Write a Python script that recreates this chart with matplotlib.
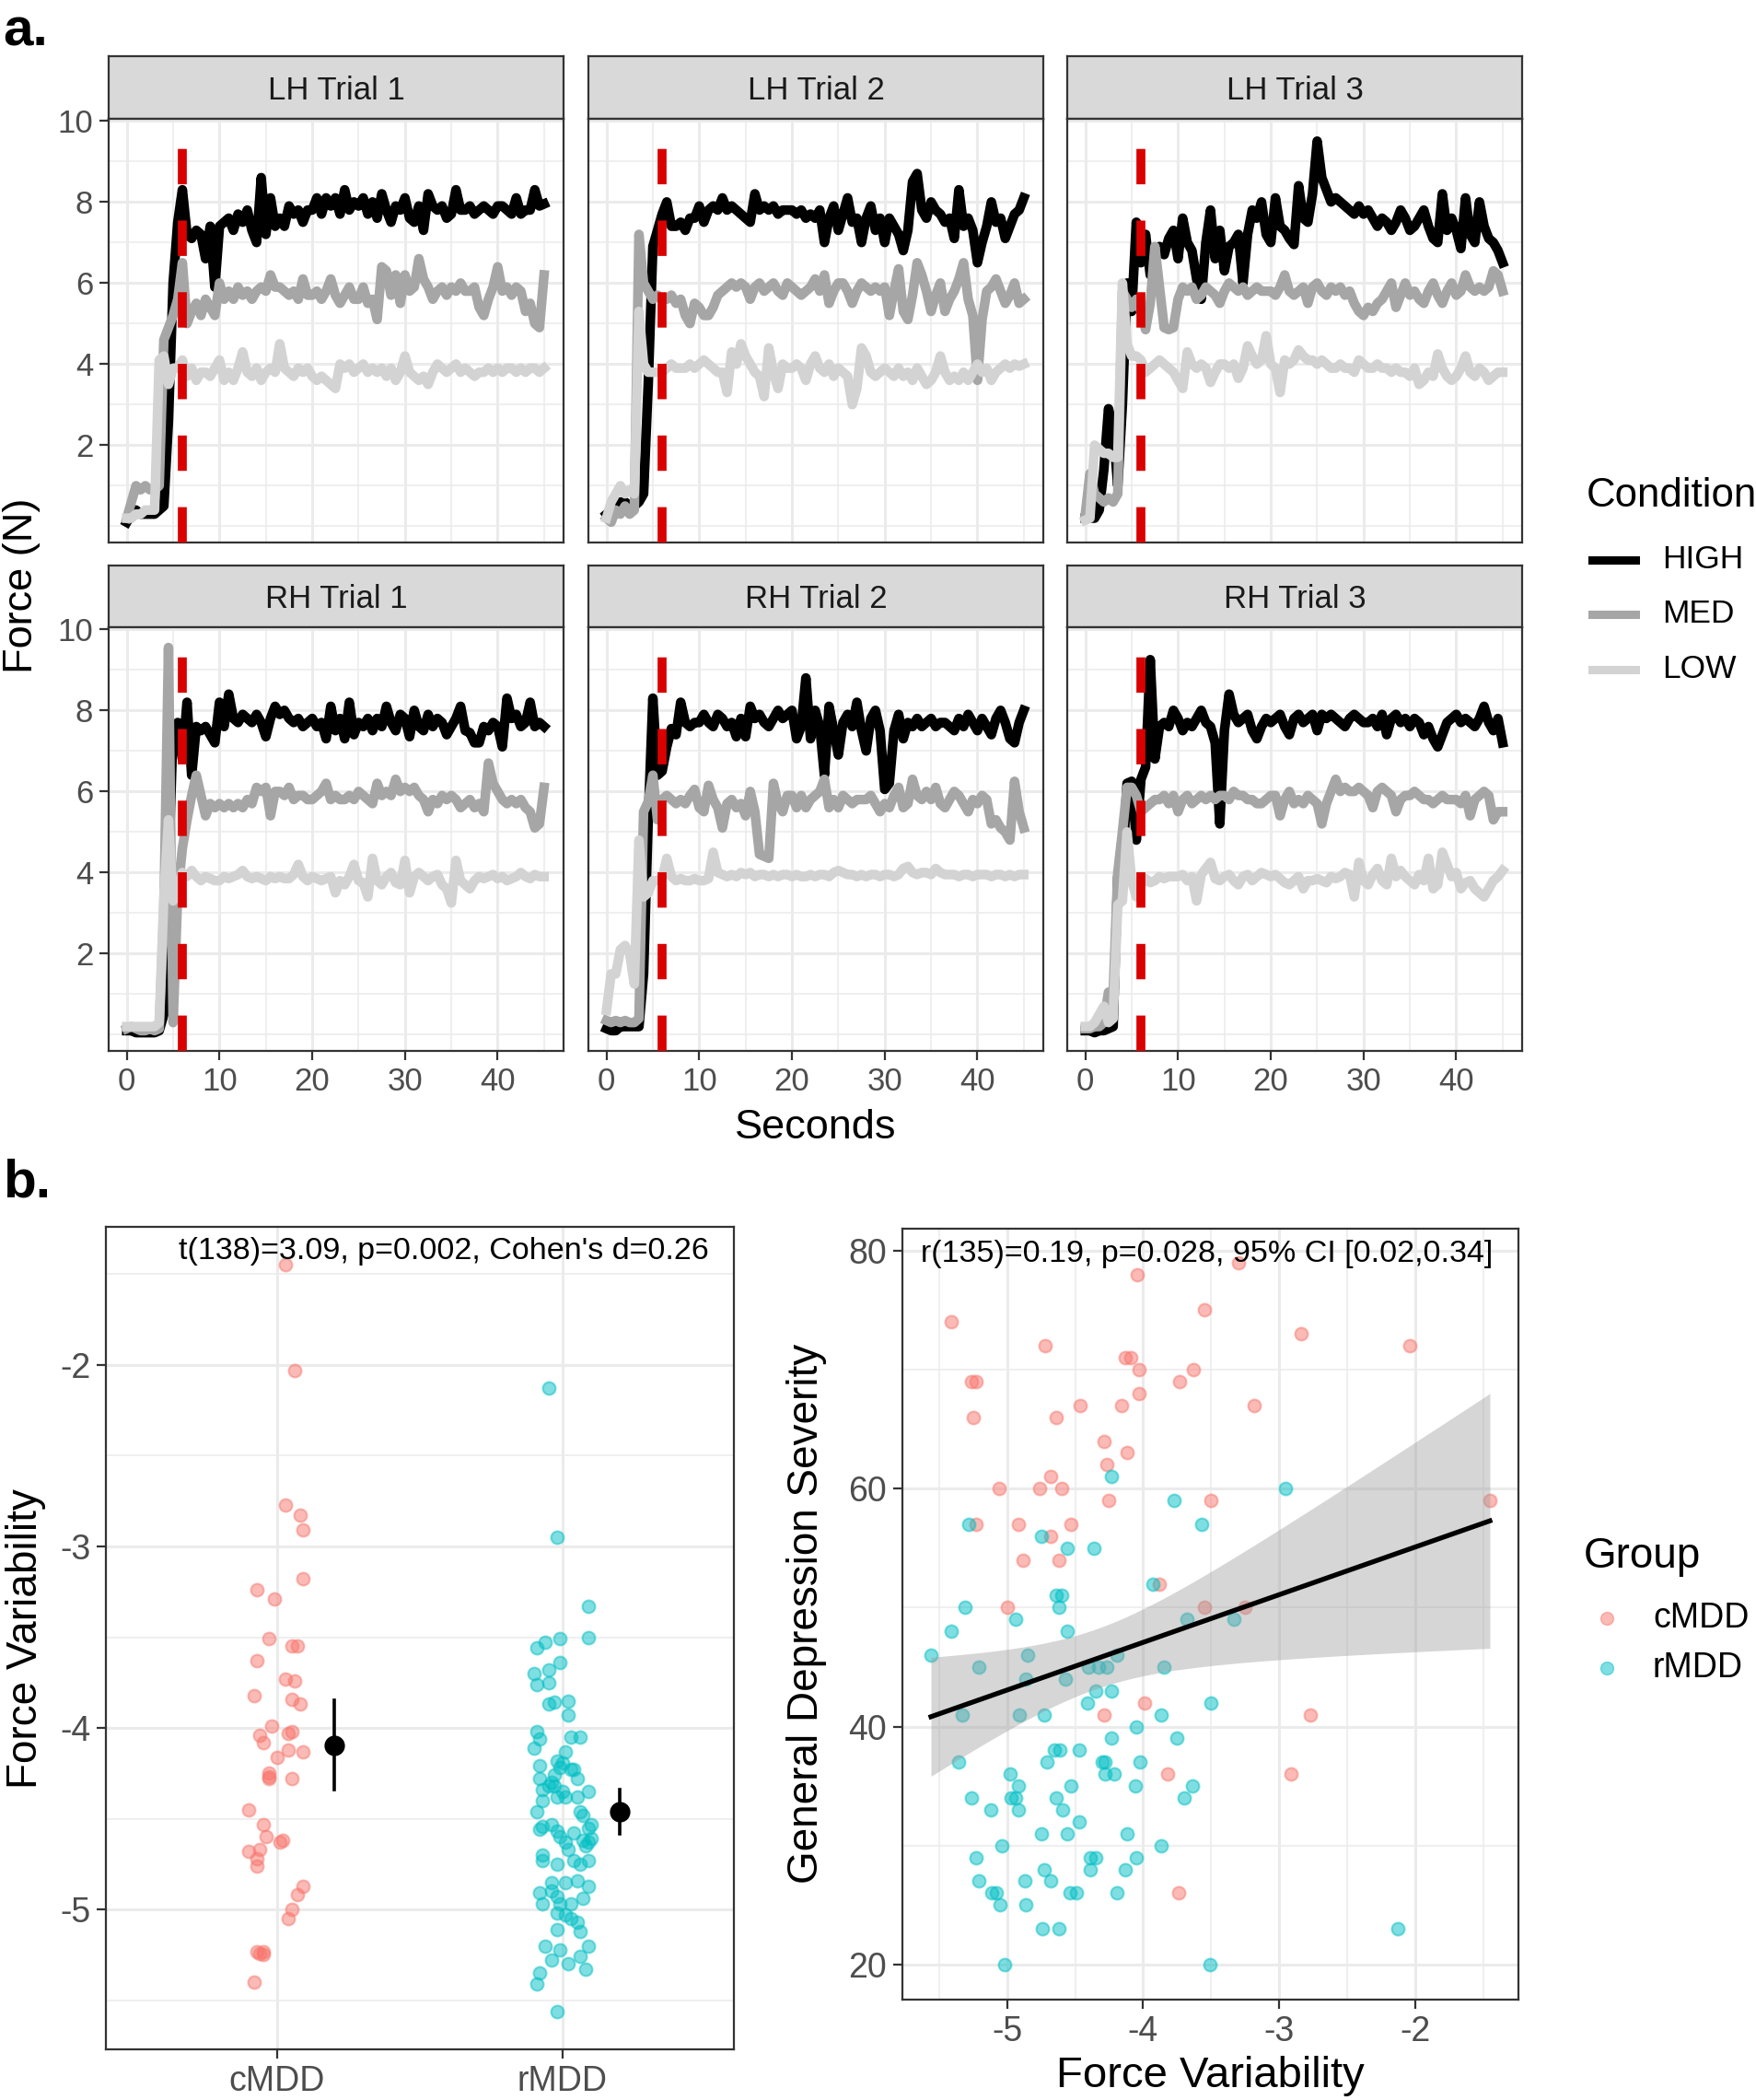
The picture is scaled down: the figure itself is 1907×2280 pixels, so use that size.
import numpy as np
import matplotlib
matplotlib.use("Agg")
from matplotlib import pyplot as plt
from matplotlib.lines import Line2D

W, H, DPI = 1908, 2280, 100
SANS = ["Liberation Sans", "DejaVu Sans"]
NARROW = ["Liberation Sans Narrow", "Liberation Sans", "DejaVu Sans"]
plt.rcParams["font.family"] = SANS
plt.rcParams["axes.unicode_minus"] = False

# ---------------- panel a: force traces (sampled every 0.5 s) ----------------
time_s = np.arange(0, 45.5, 0.5)

lh1_high = [0.1, 0.3, 0.4, 0.3, 0.3, 0.3, 0.3, 0.4, 0.5, 2.6,
            6.0, 7.5, 8.3, 7.2, 7.1, 7.3, 7.2, 6.6, 7.4, 5.9,
            7.4, 7.5, 7.6, 7.3, 7.7, 7.5, 7.8, 7.3, 7.0, 8.6,
            7.2, 8.1, 7.4, 7.6, 7.4, 7.9, 7.7, 7.8, 7.5, 7.8,
            7.8, 8.1, 7.7, 8.1, 7.9, 8.1, 7.7, 8.3, 7.8, 8.0,
            7.9, 8.1, 7.7, 8.0, 7.6, 8.2, 7.8, 7.5, 7.9, 7.8,
            8.1, 7.6, 7.5, 7.9, 7.3, 8.2, 7.9, 7.8, 7.9, 7.6,
            7.7, 8.3, 7.8, 7.8, 7.9, 7.7, 7.8, 7.9, 7.8, 7.7,
            7.9, 7.9, 7.8, 7.7, 8.1, 7.7, 7.8, 7.8, 8.3, 7.9, 7.95]
lh1_med = [0.2, 0.6, 1.0, 0.9, 1.0, 0.9, 0.9, 1.0, 4.6, 4.9,
           5.2, 5.6, 6.5, 5.0, 5.3, 5.5, 5.2, 5.6, 5.4, 5.2,
           6.0, 5.6, 5.8, 5.6, 5.9, 5.7, 5.8, 5.6, 5.8, 5.9,
           5.8, 6.2, 5.9, 5.9, 5.8, 5.7, 5.8, 5.6, 6.1, 5.7,
           5.7, 5.8, 5.6, 5.8, 6.1, 5.7, 5.5, 5.7, 5.9, 5.6,
           5.6, 5.9, 5.5, 5.6, 5.1, 6.4, 6.3, 5.7, 6.2, 5.5,
           6.2, 5.8, 5.9, 6.6, 6.1, 5.9, 5.6, 5.8, 5.9, 5.7,
           5.9, 5.8, 6.0, 5.8, 5.8, 5.9, 5.4, 5.2, 5.6, 5.9,
           6.4, 5.8, 5.9, 5.7, 5.9, 5.8, 5.3, 5.5, 5.0, 4.9, 6.2]
lh1_low = [0.2, 0.2, 0.3, 0.3, 0.4, 0.4, 0.4, 4.1, 4.2, 3.5,
           3.9, 3.9, 4.1, 3.7, 3.9, 3.6, 3.8, 3.8, 3.7, 3.9,
           4.1, 3.6, 3.8, 3.6, 3.9, 4.3, 3.8, 3.7, 3.9, 3.6,
           3.8, 3.9, 3.8, 4.5, 3.9, 3.8, 3.7, 3.9, 3.8, 3.9,
           3.7, 3.6, 3.7, 3.6, 3.5, 3.4, 4.0, 3.9, 4.0, 3.8,
           3.9, 4.0, 3.8, 3.9, 3.8, 3.9, 3.7, 3.9, 3.6, 3.8,
           4.2, 3.8, 3.7, 3.6, 3.7, 3.5, 3.8, 4.0, 3.9, 3.8,
           3.9, 4.0, 3.8, 3.9, 3.8, 3.7, 3.8, 3.8, 3.9, 3.8,
           3.9, 3.8, 3.9, 3.9, 3.8, 3.9, 3.8, 3.9, 3.9, 3.8, 3.9]

lh2_high = [0.3, 0.4, 0.5, 0.6, 0.6, 0.5, 0.5, 0.6, 0.8, 3.5,
            6.9, 7.3, 7.7, 8.0, 7.4, 7.4, 7.5, 7.3, 7.6, 7.6,
            7.9, 7.5, 7.8, 7.9, 7.8, 8.1, 7.8, 7.9, 7.8, 7.7,
            7.6, 7.5, 8.2, 7.8, 7.9, 7.8, 7.9, 7.7, 7.8, 7.8,
            7.8, 7.7, 7.8, 7.6, 7.7, 7.6, 7.8, 7.0, 7.6, 7.9,
            7.3, 7.7, 8.1, 7.5, 7.6, 7.0, 7.6, 7.9, 7.3, 7.6,
            7.0, 7.6, 7.4, 7.2, 6.8, 7.3, 8.5, 8.7, 7.8, 7.6,
            8.0, 7.8, 7.7, 7.5, 7.6, 7.1, 8.3, 7.4, 7.6, 7.3,
            6.5, 7.0, 7.4, 8.0, 7.5, 7.6, 7.1, 7.4, 7.7, 7.8, 8.1]
lh2_med = [0.2, 0.1, 0.4, 0.3, 0.5, 0.3, 0.4, 7.2, 6.0, 5.8,
           5.6, 5.7, 5.6, 5.6, 5.7, 5.5, 5.6, 5.2, 5.0, 5.5,
           5.4, 5.2, 5.2, 5.4, 5.7, 5.8, 5.9, 6.0, 5.9, 6.0,
           5.9, 5.6, 5.9, 6.0, 5.8, 5.9, 6.0, 5.8, 5.7, 6.0,
           5.9, 5.8, 5.7, 5.8, 5.9, 6.1, 5.8, 6.2, 5.5, 5.8,
           6.0, 6.0, 5.8, 5.5, 5.8, 6.0, 5.9, 5.8, 5.9, 5.8,
           5.9, 5.2, 5.8, 6.35, 5.3, 5.1, 5.7, 6.5, 6.2, 5.8,
           5.3, 5.7, 6.0, 5.3, 5.6, 5.8, 6.1, 6.5, 5.6, 5.2,
           3.6, 5.1, 5.8, 5.9, 6.1, 5.8, 5.5, 5.7, 6.0, 5.5, 5.6]
lh2_low = [0.2, 0.6, 0.8, 1.0, 0.8, 0.9, 0.8, 5.3, 4.0, 3.8,
           3.8, 3.8, 3.8, 3.9, 4.0, 3.9, 3.9, 3.9, 4.0, 3.9,
           4.0, 4.1, 4.0, 3.9, 3.8, 3.8, 3.3, 4.3, 4.0, 4.5,
           4.2, 4.0, 3.8, 3.7, 3.2, 4.4, 3.8, 3.4, 4.0, 3.9,
           3.9, 4.0, 3.9, 3.6, 4.0, 4.2, 3.9, 3.8, 4.0, 3.7,
           3.9, 3.8, 3.7, 3.0, 3.4, 4.4, 4.2, 3.8, 3.7, 3.8,
           3.9, 3.8, 3.7, 3.9, 3.7, 3.8, 3.6, 3.9, 3.7, 3.5,
           3.6, 3.8, 4.2, 3.8, 3.6, 3.7, 3.6, 3.8, 3.6, 3.8,
           4.0, 3.8, 3.9, 3.6, 3.8, 3.9, 4.0, 3.9, 4.0, 3.95, 4.0]

lh3_high = [0.2, 0.2, 0.2, 0.4, 1.4, 2.9, 2.4, 1.0, 3.0, 6.0,
            5.3, 7.5, 6.5, 7.2, 6.2, 6.8, 6.9, 6.7, 7.1, 7.3,
            6.6, 7.6, 7.0, 6.8, 6.1, 5.6, 7.0, 7.8, 6.6, 7.3,
            6.3, 6.9, 7.0, 7.2, 6.0, 7.2, 7.8, 7.6, 8.0, 7.2,
            7.0, 8.1, 7.4, 7.3, 7.1, 6.95, 8.4, 7.6, 7.5, 8.2,
            9.5, 8.6, 8.3, 8.0, 8.1, 8.0, 7.9, 7.8, 7.7, 7.9,
            7.7, 7.8, 7.6, 7.4, 7.6, 7.5, 7.3, 7.5, 7.8, 7.6,
            7.3, 7.4, 7.6, 7.8, 7.4, 7.1, 7.0, 8.2, 7.3, 7.6,
            7.3, 6.85, 8.1, 7.2, 7.0, 8.0, 7.4, 7.1, 7.0, 6.8, 6.5]
lh3_med = [0.3, 1.3, 0.8, 0.7, 0.6, 0.7, 0.6, 0.8, 5.8, 5.6,
           5.4, 5.6, 5.3, 4.85, 5.5, 6.9, 5.9, 4.9, 4.85, 4.9,
           5.6, 5.9, 5.8, 5.9, 5.6, 5.7, 5.9, 5.8, 5.7, 5.5,
           5.8, 6.0, 5.9, 5.8, 5.9, 5.7, 5.8, 5.9, 5.8, 5.8,
           5.8, 5.7, 5.9, 6.2, 5.8, 5.7, 5.8, 5.9, 5.5, 5.9,
           6.0, 5.8, 5.7, 5.9, 5.8, 5.9, 5.7, 5.8, 5.5, 5.3,
           5.2, 5.4, 5.3, 5.5, 5.6, 5.8, 6.0, 5.4, 5.7, 6.0,
           5.7, 5.8, 5.6, 5.5, 5.8, 6.0, 5.7, 5.5, 5.8, 6.0,
           5.7, 5.8, 6.2, 5.9, 5.8, 5.9, 5.8, 5.9, 6.3, 6.2, 5.8]
lh3_low = [0.15, 0.2, 2.0, 1.9, 1.8, 1.8, 1.7, 1.7, 6.0, 4.5,
           4.2, 4.2, 4.1, 3.8, 3.9, 4.0, 4.1, 4.0, 3.9, 3.8,
           3.6, 3.4, 4.3, 4.0, 3.9, 4.0, 3.9, 3.55, 3.8, 4.0,
           4.0, 3.9, 4.0, 3.65, 3.9, 4.45, 4.2, 4.0, 4.1, 4.7,
           4.0, 3.9, 3.3, 4.1, 4.0, 4.1, 4.35, 4.2, 4.1, 4.1,
           4.0, 4.1, 4.0, 3.9, 3.9, 4.0, 3.9, 3.9, 3.8, 4.1,
           4.0, 3.9, 3.9, 4.0, 3.9, 3.9, 3.8, 3.9, 3.8, 3.8,
           3.7, 3.9, 3.5, 3.6, 3.8, 3.7, 4.25, 3.9, 3.7, 3.6,
           3.7, 3.9, 4.2, 3.8, 3.7, 3.9, 3.8, 3.6, 3.7, 3.8, 3.8]

rh1_high = [0.1, 0.1, 0.05, 0.05, 0.05, 0.05, 0.05, 0.1, 0.5, 4.0,
            7.6, 7.7, 6.8, 8.2, 6.4, 7.6, 7.5, 7.6, 7.4, 7.2,
            8.2, 7.6, 8.4, 7.8, 7.7, 7.9, 7.8, 7.7, 7.9, 7.7,
            7.35, 7.8, 8.1, 7.9, 8.0, 7.8, 7.7, 7.8, 7.6, 7.7,
            7.8, 7.6, 7.7, 7.3, 8.1, 7.5, 7.8, 7.3, 8.2, 7.4,
            7.7, 7.6, 7.8, 7.5, 7.8, 7.6, 8.1, 7.7, 7.5, 7.9,
            7.8, 7.35, 8.0, 7.6, 7.5, 7.9, 7.6, 7.8, 7.7, 7.4,
            7.6, 7.8, 8.1, 7.5, 7.45, 7.2, 7.2, 7.6, 7.5, 7.7,
            7.6, 7.1, 8.3, 7.8, 7.9, 7.6, 7.7, 8.2, 7.6, 7.7, 7.6]
rh1_med = [0.15, 0.2, 0.15, 0.1, 0.1, 0.15, 0.1, 0.15, 3.0, 9.55,
           0.3, 3.5, 4.6, 5.3, 5.9, 6.4, 5.9, 5.4, 5.7, 5.6,
           5.7, 5.6, 5.7, 5.6, 5.7, 5.6, 5.8, 5.7, 6.1, 6.0,
           6.1, 5.4, 6.0, 6.0, 5.9, 6.1, 5.8, 5.9, 5.9, 5.8,
           5.8, 5.9, 6.0, 6.2, 5.8, 5.9, 5.8, 5.8, 5.9, 5.8,
           6.0, 5.9, 5.8, 5.7, 6.2, 5.9, 6.0, 5.9, 6.3, 6.0,
           6.1, 6.0, 6.1, 5.9, 5.8, 5.5, 5.8, 5.7, 5.9, 5.8,
           5.9, 5.8, 5.6, 5.7, 5.8, 5.6, 5.7, 5.5, 6.7, 6.2,
           6.0, 5.8, 5.7, 5.8, 5.7, 5.8, 5.6, 5.5, 5.1, 5.2, 6.1]
rh1_low = [0.2, 0.2, 0.2, 0.2, 0.2, 0.2, 0.2, 0.3, 3.4, 5.3,
           3.3, 3.5, 4.0, 3.9, 4.05, 3.9, 3.8, 3.9, 3.85, 3.8,
           3.8, 3.9, 3.85, 3.9, 3.95, 4.05, 3.9, 3.85, 3.9, 3.85,
           3.8, 3.9, 3.85, 3.9, 3.85, 3.85, 3.95, 4.2, 3.9, 3.8,
           3.9, 3.85, 3.8, 3.85, 3.9, 3.5, 3.8, 3.7, 3.9, 4.2,
           3.8, 3.75, 3.4, 4.35, 3.8, 3.7, 3.9, 4.0, 3.75, 3.7,
           4.3, 3.5, 3.9, 4.0, 3.9, 3.8, 3.9, 3.95, 3.7, 3.6,
           3.25, 4.3, 3.8, 3.7, 3.6, 3.8, 3.9, 3.85, 3.9, 3.95,
           3.85, 3.9, 3.8, 3.85, 3.9, 4.0, 3.9, 3.85, 3.95, 3.9, 3.9]

rh2_high = [0.15, 0.1, 0.1, 0.2, 0.2, 0.2, 0.2, 0.2, 1.5, 5.3,
            8.3, 6.4, 6.5, 7.1, 7.55, 7.4, 8.2, 7.7, 7.6, 7.7,
            7.7, 7.9, 7.7, 7.6, 7.9, 7.8, 7.6, 7.7, 7.35, 7.8,
            7.35, 8.1, 7.8, 7.9, 7.7, 7.6, 7.8, 8.0, 7.8, 7.9,
            8.0, 7.3, 7.6, 8.8, 7.3, 8.0, 7.6, 6.4, 8.1, 7.5,
            6.9, 7.7, 7.9, 7.6, 8.2, 7.5, 7.0, 7.8, 8.0, 7.5,
            6.05, 6.2, 7.5, 7.9, 7.3, 7.7, 7.6, 7.8, 7.6, 7.7,
            7.8, 7.6, 7.7, 7.7, 7.6, 7.5, 7.8, 7.6, 7.9, 7.7,
            7.5, 7.8, 7.6, 7.4, 7.8, 8.0, 7.7, 7.3, 7.2, 7.7, 8.0]
rh2_med = [0.35, 0.3, 0.35, 0.3, 0.35, 0.3, 0.3, 0.4, 5.5, 5.75,
           6.4, 5.3, 5.8, 5.9, 5.8, 5.7, 5.8, 5.7, 5.9, 6.05,
           5.6, 5.5, 6.15, 5.8, 5.6, 5.1, 5.7, 5.8, 5.6, 5.7,
           5.4, 6.0, 5.5, 4.45, 4.4, 4.35, 6.2, 5.7, 5.5, 5.9,
           5.9, 5.6, 5.9, 5.6, 5.8, 5.9, 6.0, 6.3, 5.6, 5.8,
           5.6, 5.9, 5.8, 5.7, 5.8, 5.8, 5.8, 5.9, 5.7, 5.5,
           5.7, 5.6, 5.9, 6.1, 5.6, 5.7, 6.3, 5.9, 5.8, 6.0,
           5.8, 6.1, 5.7, 5.6, 5.8, 6.0, 5.9, 5.7, 5.5, 5.8,
           5.7, 5.9, 5.8, 5.2, 5.3, 5.1, 5.0, 4.8, 6.25, 5.5, 5.1]
rh2_low = [0.6, 1.5, 1.5, 2.1, 2.2, 2.0, 1.25, 4.8, 3.4, 3.5,
           3.8, 3.8, 3.85, 4.35, 3.9, 3.8, 3.85, 3.8, 3.8, 3.85,
           3.8, 3.8, 3.85, 4.5, 4.0, 3.95, 3.9, 3.95, 3.9, 4.0,
           3.95, 4.0, 3.9, 3.95, 3.95, 3.9, 3.95, 3.9, 3.95, 3.95,
           3.9, 3.95, 3.9, 3.9, 3.95, 3.9, 3.95, 3.95, 3.9, 4.0,
           4.05, 4.0, 3.95, 3.95, 3.9, 3.95, 3.9, 3.95, 3.95, 3.9,
           3.95, 3.95, 3.9, 3.95, 4.1, 4.15, 4.0, 3.95, 4.0, 4.0,
           3.95, 4.1, 4.0, 3.95, 3.95, 3.95, 3.9, 3.95, 3.95, 3.9,
           3.95, 3.95, 3.95, 3.9, 3.95, 3.95, 3.9, 3.95, 3.9, 3.95, 3.95]

rh3_high = [0.1, 0.1, 0.05, 0.1, 0.1, 0.15, 0.2, 3.9, 4.05, 6.2,
            6.25, 4.8, 6.3, 6.6, 9.25, 6.8, 7.6, 7.7, 7.6, 8.0,
            7.8, 7.5, 7.7, 7.6, 7.8, 8.0, 7.7, 7.6, 7.2, 5.2,
            7.5, 8.4, 7.9, 7.7, 7.8, 7.9, 7.5, 7.3, 7.6, 7.8,
            7.7, 7.8, 7.9, 7.6, 7.4, 7.8, 7.9, 7.7, 7.8, 7.9,
            7.5, 7.9, 7.8, 7.9, 7.8, 7.7, 7.6, 7.8, 7.9, 7.8,
            7.7, 7.7, 7.8, 7.6, 7.9, 7.4, 7.8, 7.9, 7.7, 7.8,
            7.6, 7.8, 7.7, 7.4, 7.6, 7.3, 7.1, 7.4, 7.7, 7.8,
            7.9, 7.7, 7.8, 7.7, 7.6, 7.8, 8.1, 7.7, 7.5, 7.8, 7.2]
rh3_med = [0.15, 0.15, 0.2, 0.2, 0.3, 1.05, 1.0, 4.0, 5.0, 6.1,
           6.1, 5.9, 5.5, 5.6, 5.7, 5.8, 5.8, 5.9, 5.7, 5.9,
           5.5, 5.8, 5.9, 5.7, 5.8, 5.9, 5.8, 5.9, 5.8, 5.9,
           5.9, 5.8, 6.0, 5.9, 5.9, 5.8, 5.8, 5.7, 5.7, 5.8,
           5.9, 5.9, 5.4, 5.8, 6.0, 5.7, 5.8, 5.7, 5.9, 5.8,
           5.7, 5.2, 5.7, 6.0, 6.3, 6.0, 6.1, 6.0, 6.0, 6.1,
           6.0, 5.9, 5.6, 6.0, 6.1, 6.0, 5.9, 5.5, 5.8, 5.9,
           5.9, 6.0, 5.9, 5.8, 5.8, 5.7, 5.8, 5.9, 5.8, 5.8,
           5.8, 5.7, 5.9, 5.4, 5.8, 5.9, 6.0, 5.9, 5.3, 5.5, 5.5]
rh3_low = [0.2, 0.2, 0.3, 0.5, 0.7, 0.3, 0.4, 3.2, 3.3, 5.0,
           3.8, 3.4, 3.7, 3.85, 3.75, 3.8, 3.9, 3.85, 3.9, 3.9,
           3.9, 3.95, 3.8, 3.9, 3.3, 3.95, 4.1, 4.25, 3.85, 3.8,
           3.9, 3.95, 3.8, 3.7, 3.9, 3.95, 3.8, 3.9, 4.0, 3.95,
           3.9, 3.95, 3.85, 3.75, 3.7, 3.8, 3.9, 3.6, 3.8, 3.8,
           3.85, 3.8, 3.75, 3.9, 3.85, 3.9, 4.0, 3.95, 3.4, 4.25,
           3.8, 3.7, 3.95, 4.1, 3.8, 3.7, 4.35, 3.9, 4.05, 3.9,
           3.8, 3.7, 3.95, 3.8, 4.35, 3.6, 3.7, 4.5, 4.2, 3.9,
           4.0, 3.6, 3.75, 3.8, 3.6, 3.5, 3.4, 3.6, 3.8, 3.9, 4.05]

trial_names = ["LH Trial 1", "LH Trial 2", "LH Trial 3",
               "RH Trial 1", "RH Trial 2", "RH Trial 3"]
trial_traces = [(lh1_high, lh1_med, lh1_low), (lh2_high, lh2_med, lh2_low),
                (lh3_high, lh3_med, lh3_low), (rh1_high, rh1_med, rh1_low),
                (rh2_high, rh2_med, rh2_low), (rh3_high, rh3_med, rh3_low)]
conditions = ["HIGH", "MED", "LOW"]
cond_colors = ["#000000", "#A6A6A6", "#D3D3D3"]
onset_s = 6

# ---------------- panel b: force variability by group ----------------
groups = ["cMDD", "rMDD"]
group_colors = ["#F8766D", "#00BFC4"]
cmdd_var = [-1.45, -2.03, -2.77, -2.83, -2.91, -3.18, -3.24, -3.29, -3.51, -3.55,
            -3.55, -3.63, -3.73, -3.74, -3.82, -3.84, -3.87, -3.99, -4.04, -4.02,
            -4.03, -4.08, -4.12, -4.13, -4.16, -4.25, -4.27, -4.28, -4.28, -4.45,
            -4.53, -4.60, -4.62, -4.63, -4.68, -4.67, -4.72, -4.76, -4.87, -4.92,
            -5.00, -5.05, -5.23, -5.23, -5.24, -5.25, -5.40]
cmdd_jit = [0.03, 0.06, 0.03, 0.08, 0.09, 0.09, -0.07, -0.01, -0.03, 0.05,
            0.07, -0.07, 0.03, 0.06, -0.08, 0.05, 0.08, -0.02, -0.06, 0.05,
            0.04, -0.05, 0.04, 0.09, 0.00, -0.03, -0.03, -0.03, 0.05, -0.10,
            -0.05, -0.04, 0.02, 0.01, -0.10, -0.06, -0.07, -0.07, 0.09, 0.07,
            0.05, 0.04, -0.07, -0.05, -0.06, -0.05, -0.08]
rmdd_var = [-2.13, -2.95, -3.33, -3.50, -3.51, -3.53, -3.56, -3.64, -3.68, -3.70,
            -3.75, -3.76, -3.85, -3.86, -3.87, -3.93, -4.02, -4.06, -4.05, -4.05,
            -4.11, -4.13, -4.18, -4.19, -4.21, -4.22, -4.23, -4.23, -4.26, -4.28,
            -4.28, -4.30, -4.32, -4.32, -4.34, -4.35, -4.35, -4.38, -4.38, -4.38,
            -4.40, -4.46, -4.46, -4.48, -4.53, -4.55, -4.56, -4.54, -4.53, -4.57,
            -4.58, -4.60, -4.61, -4.62, -4.65, -4.63, -4.63, -4.67, -4.70, -4.73,
            -4.73, -4.73, -4.75, -4.75, -4.85, -4.85, -4.84, -4.87, -4.91, -4.90,
            -4.93, -4.97, -4.97, -4.94, -4.97, -5.02, -5.03, -5.05, -5.07, -5.11,
            -5.12, -5.20, -5.22, -5.20, -5.28, -5.26, -5.30, -5.33, -5.35, -5.41,
            -5.56]
rmdd_jit = [-0.05, -0.02, 0.09, 0.09, -0.01, -0.06, -0.09, -0.01, -0.05, -0.10,
            -0.05, -0.09, 0.02, -0.03, -0.05, 0.02, -0.09, -0.08, 0.03, 0.06,
            -0.10, 0.01, -0.02, 0.00, -0.08, -0.01, 0.03, 0.04, -0.03, -0.08,
            0.05, -0.04, -0.05, -0.03, -0.07, 0.00, 0.09, 0.01, -0.02, 0.05,
            -0.07, -0.09, 0.06, 0.07, 0.10, 0.09, -0.08, -0.07, -0.04, -0.02,
            0.04, -0.01, 0.10, 0.07, 0.08, 0.09, 0.01, 0.02, -0.07, -0.07,
            0.04, 0.09, -0.02, 0.06, -0.04, 0.01, 0.05, 0.09, -0.08, -0.04,
            -0.02, -0.07, -0.01, 0.07, 0.03, -0.02, 0.01, 0.03, 0.05, -0.02,
            0.06, -0.06, -0.01, 0.09, -0.04, 0.06, 0.02, 0.08, -0.08, -0.09,
            -0.02]
group_test = "t(138)=3.09, p=0.002, Cohen's d=0.26"

# ---------------- panel b: depression severity vs force variability ----------------
cmdd_fv = [-3.30, -4.04, -5.41, -3.55, -2.84, -2.04, -4.72, -4.13, -4.09, -4.03,
           -3.63, -5.26, -5.23, -3.73, -4.03, -4.46, -4.16, -3.18, -5.25, -4.64,
           -4.29, -4.12, -4.27, -4.68, -5.06, -4.76, -4.60, -4.25, -3.50, -1.45,
           -5.23, -4.92, -4.53, -4.68, -4.88, -4.62, -3.88, -5.00, -3.55, -3.25,
           -3.99, -4.29, -2.77, -3.82, -2.91, -3.74]
cmdd_dep = [79, 78, 74, 75, 73, 72, 72, 71, 71, 70,
            70, 69, 69, 69, 68, 67, 67, 67, 66, 66,
            64, 63, 62, 61, 60, 60, 60, 59, 59, 59,
            57, 57, 57, 56, 54, 54, 52, 50, 50, 50,
            42, 41, 41, 36, 36, 26]
rmdd_fv = [-4.23, -2.95, -3.77, -5.28, -3.57, -4.75, -4.56, -4.36, -3.93, -4.64,
           -4.60, -5.31, -4.62, -4.94, -3.68, -3.33, -5.41, -4.56, -5.56, -4.85,
           -4.19, -3.85, -5.21, -4.40, -4.33, -4.27, -4.86, -4.57, -4.35, -4.23,
           -4.41, -3.50, -5.33, -4.91, -4.73, -3.87, -4.05, -4.23, -3.75, -4.65,
           -4.61, -4.47, -5.36, -4.71, -4.30, -4.28, -4.02, -4.98, -4.28, -4.21,
           -4.92, -4.53, -4.06, -3.64, -5.26, -4.97, -4.94, -4.64, -3.70, -5.12,
           -4.92, -4.59, -4.47, -4.75, -4.56, -4.12, -5.04, -3.87, -5.23, -4.39,
           -4.35, -4.05, -4.73, -4.39, -4.13, -5.21, -4.87, -4.68, -5.11, -5.08,
           -4.54, -4.49, -4.19, -5.05, -4.86, -4.74, -4.62, -2.13, -5.02, -3.51]
rmdd_dep = [61, 60, 59, 57, 57, 56, 55, 55, 52, 51,
            51, 50, 50, 49, 49, 49, 48, 48, 46, 46,
            46, 45, 45, 45, 45, 45, 44, 44, 43, 43,
            42, 42, 41, 41, 41, 41, 40, 39, 39, 38,
            38, 38, 37, 37, 37, 37, 37, 36, 36, 36,
            35, 35, 35, 35, 34, 34, 34, 34, 34, 33,
            33, 33, 32, 31, 31, 31, 30, 30, 29, 29,
            29, 29, 28, 28, 28, 27, 27, 27, 26, 26,
            26, 26, 26, 25, 25, 23, 23, 23, 20, 20]
corr_test = "r(135)=0.19, p=0.028, 95% CI [0.02,0.34]"


def t975(df):
    # Cornish-Fisher approximation of the 97.5% t quantile
    z = 1.959964
    return z + (z**3 + z) / (4 * df) + (5 * z**5 + 16 * z**3 + 3 * z) / (96 * df**2)


def px_axes(fig, left, top, right, bottom):
    return fig.add_axes([left / W, 1 - bottom / H, (right - left) / W, (bottom - top) / H])


def ftext(fig, x, y, s, **kw):
    fig.text(x / W, 1 - y / H, s, **kw)


def style_panel(ax, label_font=SANS, labelsize=25):
    ax.set_facecolor("white")
    for sp in ax.spines.values():
        sp.set_color("#333333")
        sp.set_linewidth(1.6)
    ax.grid(which="major", color="#EBEBEB", linewidth=2.2)
    ax.grid(which="minor", color="#EBEBEB", linewidth=1.1)
    ax.set_axisbelow(True)
    ax.tick_params(which="major", length=7, width=1.6, color="#333333",
                   labelcolor="#4D4D4D", labelsize=labelsize, pad=5)
    ax.tick_params(which="minor", length=0)
    for lab in ax.get_xticklabels() + ax.get_yticklabels():
        lab.set_family(label_font)


fig = plt.figure(figsize=(W / DPI, H / DPI), dpi=DPI)

# ---------------- a. facets ----------------
col_px = [(118, 612), (639, 1133), (1159, 1653)]
row_px = [(61, 129, 589), (614, 681, 1141)]
for k, name in enumerate(trial_names):
    r, c = divmod(k, 3)
    left, right = col_px[c]
    s_top, p_top, p_bot = row_px[r]

    strip = px_axes(fig, left, s_top, right, p_top)
    strip.set_facecolor("#D9D9D9")
    strip.set_xticks([])
    strip.set_yticks([])
    for sp in strip.spines.values():
        sp.set_color("#333333")
        sp.set_linewidth(1.6)
    strip.text(0.5, 0.45, name, ha="center", va="center", fontsize=25,
               color="#1A1A1A", transform=strip.transAxes)

    ax = px_axes(fig, left, p_top, right, p_bot)
    for series, color in zip(trial_traces[k], cond_colors):
        assert len(series) == len(time_s)
        ax.plot(time_s, series, color=color, lw=7.5, solid_joinstyle="round")
    ax.axvline(onset_s, color="#D90000", lw=7, dashes=(3.95, 4.05), zorder=5)
    ax.set_xlim(-1.95, 47.1)
    ax.set_ylim(-0.4, 10.05)
    ax.set_xticks([0, 10, 20, 30, 40])
    ax.set_xticks([5, 15, 25, 35, 45], minor=True)
    ax.set_yticks([2, 4, 6, 8, 10])
    ax.set_yticks([0, 1, 3, 5, 7, 9], minor=True)
    style_panel(ax)
    if r == 0:
        ax.tick_params(axis="x", which="major", bottom=False, labelbottom=False)
    if c > 0:
        ax.tick_params(axis="y", which="major", left=False, labelleft=False)

ftext(fig, 3, 49, "a.", fontsize=42, fontweight="bold", va="baseline")
ftext(fig, 24, 636, "Force (N)", fontsize=32.5, rotation=90, ha="center", va="center")
ftext(fig, 886, 1224, "Seconds", fontsize=32.5, ha="center", va="center")

ftext(fig, 1723, 538, "Condition", fontsize=31.5, va="center")
for i, (cond, color) in enumerate(zip(conditions, cond_colors)):
    yk = [608, 667, 727][i]
    fig.add_artist(Line2D([1729 / W, 1776 / W], [1 - yk / H] * 2, color=color, lw=6.5,
                          transform=fig.transFigure))
    ftext(fig, 1805, yk, cond, fontsize=25.5, va="center")

# ---------------- b. left: group comparison ----------------
axl = px_axes(fig, 115, 1332, 797, 2225)
for gi, (vals, jit, color) in enumerate([(cmdd_var, cmdd_jit, group_colors[0]),
                                         (rmdd_var, rmdd_jit, group_colors[1])]):
    xpos = gi + 1 + np.array(jit)
    axl.scatter(xpos, vals, s=100, c=color, alpha=0.5, edgecolors=color,
                linewidths=1.5, zorder=3)
    v = np.array(vals)
    m = v.mean()
    ci = t975(len(v) - 1) * v.std(ddof=1) / np.sqrt(len(v))
    axl.plot([gi + 1.2] * 2, [m - ci, m + ci], color="black", lw=2.6, zorder=4)
    axl.plot(gi + 1.2, m, "o", color="black", markersize=15, zorder=5)
axl.set_xlim(0.4, 2.6)
axl.set_ylim(-5.77, -1.24)
axl.set_xticks([1, 2])
axl.set_xticklabels(groups)
axl.set_yticks([-5, -4, -3, -2])
axl.set_yticks([-5.5, -4.5, -3.5, -2.5, -1.5], minor=True)
style_panel(axl, NARROW, 27)
axl.text(1.585, -1.373, group_test, ha="center", va="center", fontsize=24.5,
         family=NARROW, color="black")

ftext(fig, 3, 1299, "b.", fontsize=42, fontweight="bold", va="baseline")
ftext(fig, 28, 1779, "Force Variability", fontsize=33, rotation=90, ha="center", va="center")

# ---------------- b. right: correlation ----------------
axr = px_axes(fig, 980, 1334, 1649, 2171)
for fv, dep, color in [(cmdd_fv, cmdd_dep, group_colors[0]),
                       (rmdd_fv, rmdd_dep, group_colors[1])]:
    axr.scatter(fv, dep, s=100, c=color, alpha=0.5, edgecolors=color,
                linewidths=1.5, zorder=3)

x_all = np.array(cmdd_fv + rmdd_fv)
y_all = np.array(cmdd_dep + rmdd_dep, dtype=float)
n = len(x_all)
slope, icept = np.polyfit(x_all, y_all, 1)
resid = y_all - (icept + slope * x_all)
s_err = np.sqrt(np.sum(resid**2) / (n - 2))
sxx = np.sum((x_all - x_all.mean())**2)
xg = np.linspace(x_all.min(), x_all.max(), 80)
yg = icept + slope * xg
half = t975(n - 2) * s_err * np.sqrt(1 / n + (xg - x_all.mean())**2 / sxx)
axr.fill_between(xg, yg - half, yg + half, color="#999999", alpha=0.4, lw=0, zorder=4)
axr.plot(xg, yg, color="black", lw=3.8, zorder=5)

axr.set_xlim(-5.77, -1.24)
axr.set_ylim(17.05, 81.85)
axr.set_xticks([-5, -4, -3, -2])
axr.set_xticks([-5.5, -4.5, -3.5, -2.5, -1.5], minor=True)
axr.set_yticks([20, 40, 60, 80])
axr.set_yticks([30, 50, 70], minor=True)
style_panel(axr, NARROW, 27)
axr.text(-3.53, 79.7, corr_test, ha="center", va="center", fontsize=24.5,
         family=NARROW, color="black", zorder=6)

ftext(fig, 876, 1752, "General Depression Severity", fontsize=33, rotation=90,
      ha="center", va="center")
ftext(fig, 1314, 2254, "Force Variability", fontsize=34, family=NARROW,
      ha="center", va="center")

ftext(fig, 1720, 1690, "Group", fontsize=33, va="center")
for i, (g, color) in enumerate(zip(groups, group_colors)):
    yk = [1757, 1811][i]
    fig.add_artist(Line2D([1745 / W], [1 - yk / H], marker="o", markersize=10,
                          color=color, alpha=0.5, markeredgecolor=color, lw=0,
                          transform=fig.transFigure))
    ftext(fig, 1795, yk, g, fontsize=27, va="center")

fig.savefig("out.png", dpi=DPI)
